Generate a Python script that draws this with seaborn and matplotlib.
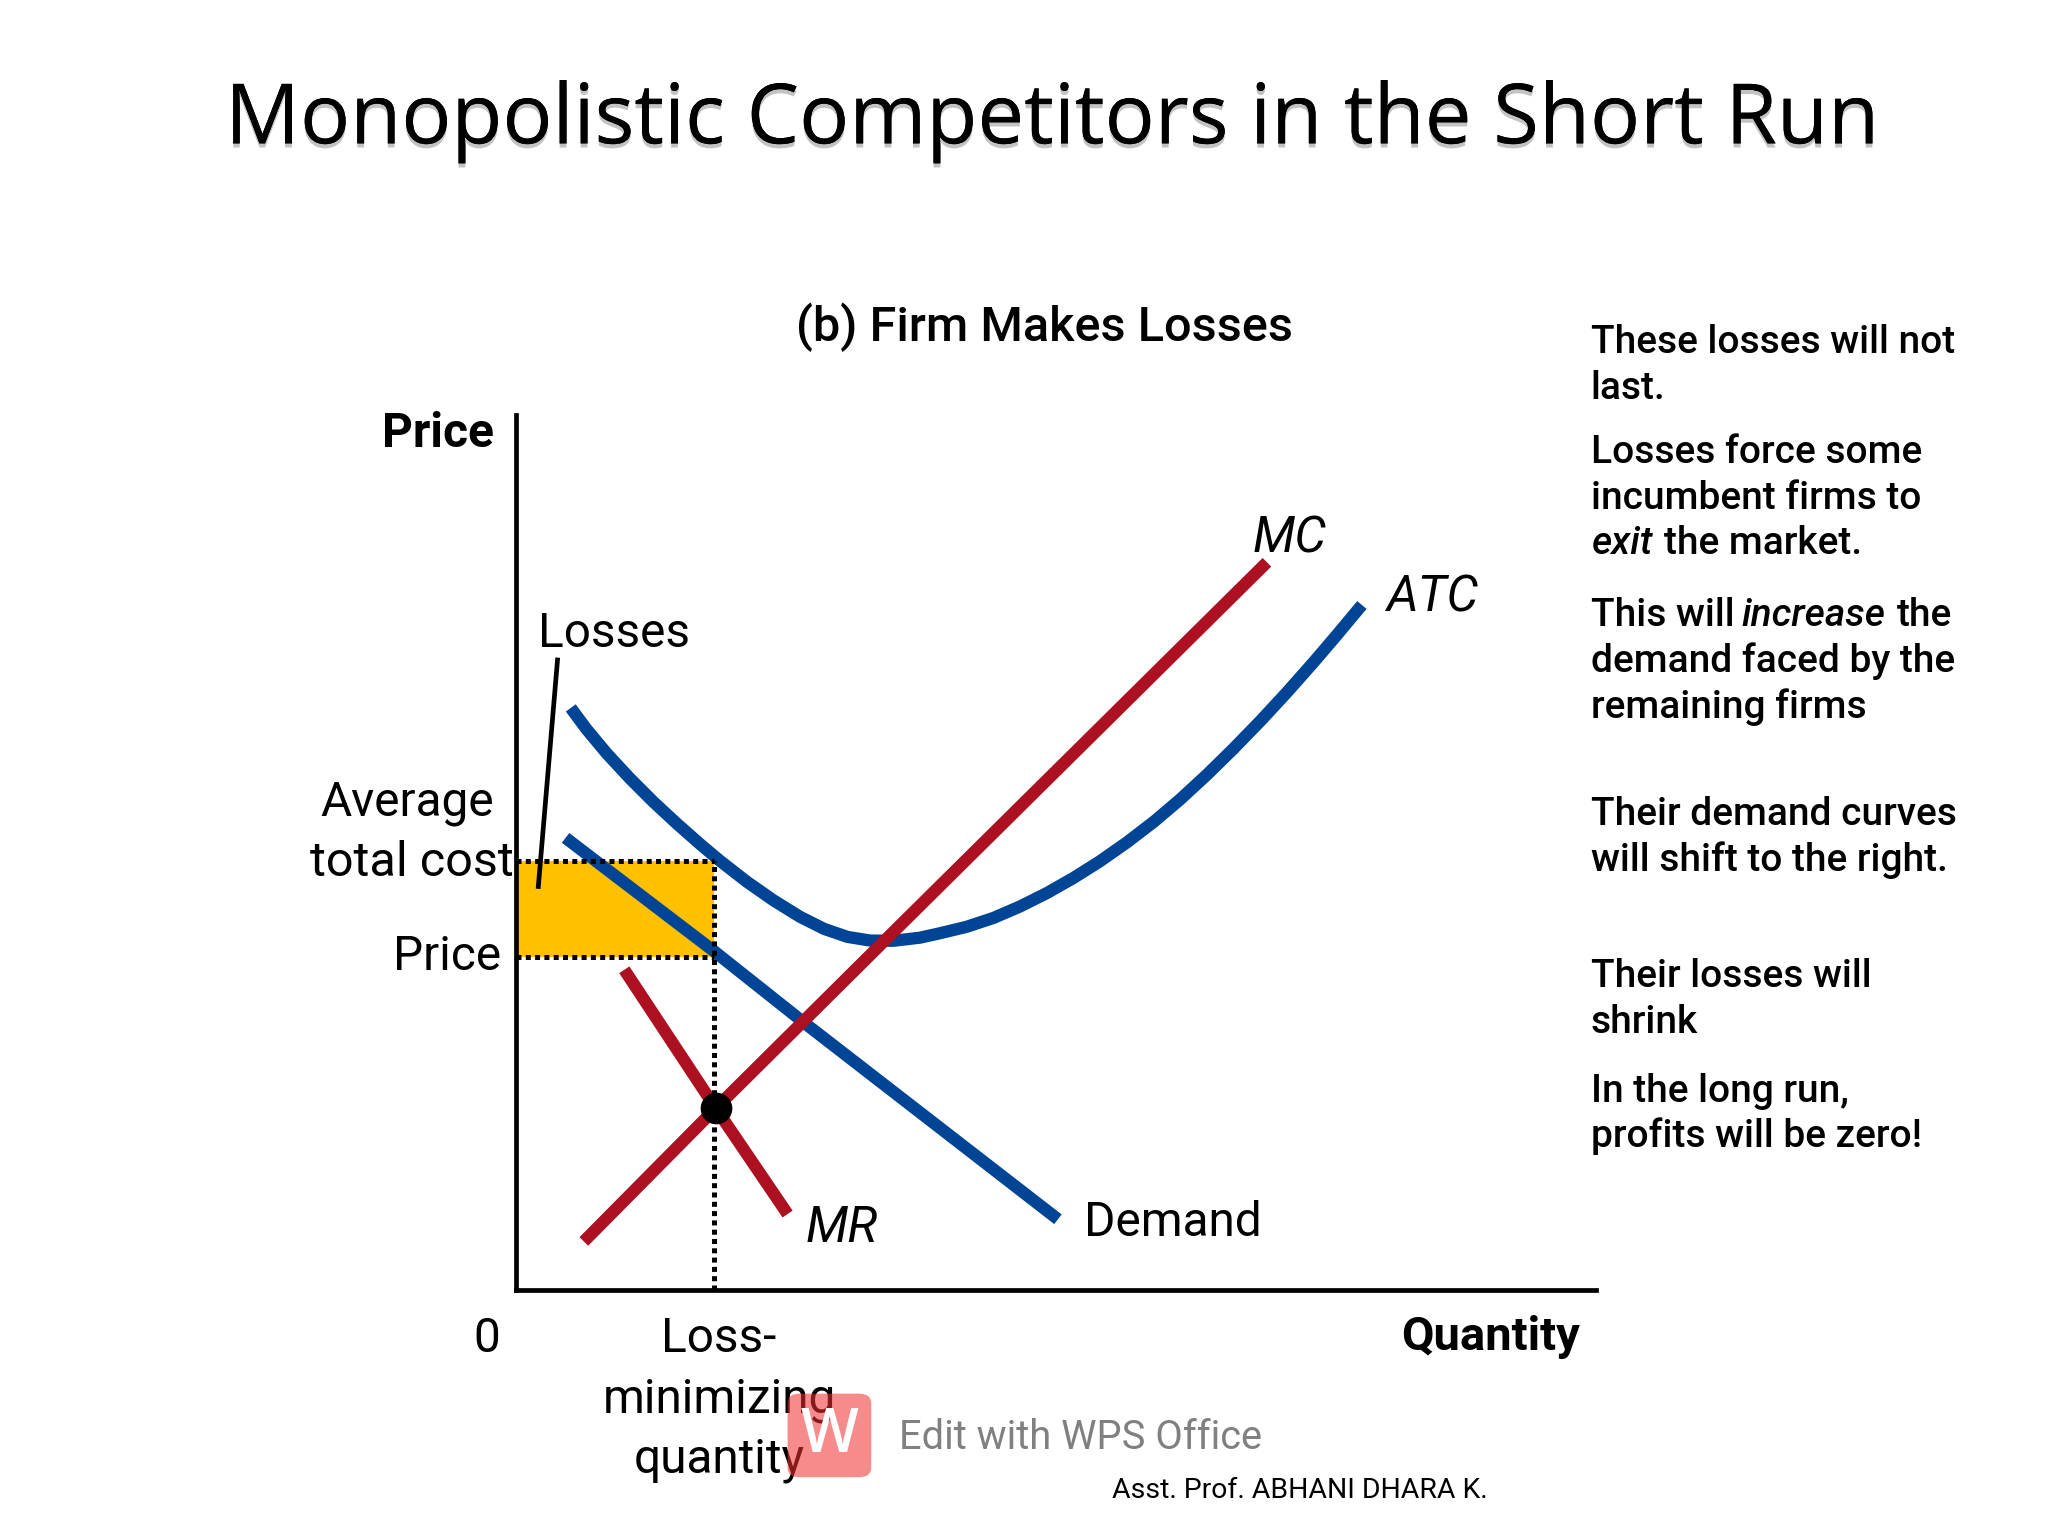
import matplotlib
matplotlib.use("Agg")
import matplotlib.pyplot as plt
import matplotlib.patheffects as pe
from matplotlib.patches import FancyBboxPatch
import pandas as pd
import seaborn as sns

sns.set_style("white")
plt.rcParams['font.family'] = ['Roboto', 'DejaVu Sans']

# Curves (x = quantity, y = price, chart units)
mc_q = [52, 153, 285, 575]
mc_p = [37, 139, 270, 557]
mr_q = [83, 153, 208]
mr_p = [245, 139, 58]
demand_q = [38, 152, 220, 415]
demand_p = [346, 259, 205, 54]
atc_q = [42, 54, 69.5, 87.4, 105, 123, 141.5, 156, 176.7, 197, 217.5, 236, 253.8, 271, 289, 309.4, 324.7, 345, 365.6, 386, 406.8, 427, 447, 468, 488.7, 508.5, 529, 549, 570, 590, 611, 628, 647.7]
atc_p = [445.5, 429.3, 410.7, 391.4, 373.8, 357.1, 340.8, 328.6, 312.5, 298.3, 285.6, 276.3, 270.2, 267.4, 267.2, 269.6, 273, 277.9, 284.7, 293.5, 303.9, 315.4, 328, 342.7, 358.6, 375.4, 394.3, 413.9, 435.5, 457.1, 480.8, 500.7, 524.3]
atc_level = 328
price_level = 255
loss_q = 152
point_q = [153]
point_p = [139]
leader_q = [32, 17]
leader_p = [484, 307]

BLUE = "#004496"
RED = "#AD1020"
GOLD = "#FFC000"
S = 2048 / 1568
W, H = 2048, 1535

fig = plt.figure(figsize=(20.48, 15.35), dpi=100, facecolor="white")
L, R, T_, B = 395 * S, 1222 * S, 317.5 * S, 987.5 * S
ax = fig.add_axes([L / W, 1 - B / H, (R - L) / W, (B - T_) / H])
ax.set_xlim(0, 827)
ax.set_ylim(0, 670)
ax.set_xticks([])
ax.set_yticks([])
ax.patch.set_alpha(0)
sns.despine(ax=ax)
for s in ("left", "bottom"):
    ax.spines[s].set_linewidth(3.4)
    ax.spines[s].set_color("black")

ax.fill_between([0, loss_q], price_level, atc_level, color=GOLD, lw=0, zorder=1)
dot = dict(color="black", lw=3.6, linestyle=(0, (1, 0.86)), zorder=5)
ax.plot([0, loss_q], [atc_level] * 2, **dot)
ax.plot([0, loss_q], [price_level] * 2, **dot)
ax.plot([loss_q, loss_q], [0, atc_level], **dot)


def curve(q, p, color):
    d = pd.DataFrame({"q": q, "p": p})
    sns.lineplot(data=d, x="q", y="p", ax=ax, color=color, lw=8.8, sort=False,
                 estimator=None, solid_capstyle="butt", solid_joinstyle="round",
                 zorder=3, legend=False)


curve(atc_q, atc_p, BLUE)
curve(demand_q, demand_p, BLUE)
curve(mc_q, mc_p, RED)
curve(mr_q, mr_p, RED)
ax.set_xlabel("")
ax.set_ylabel("")
ax.plot(leader_q, leader_p, color="black", lw=3.4, zorder=6, solid_capstyle="butt")
sns.scatterplot(x=point_q, y=point_p, ax=ax, color="black", s=520, linewidth=0, zorder=7, legend=False)


def txt(x, y, s, size=31, weight="normal", style="normal", ha="left", va="center", family=None, z=10, **kw):
    k = dict(fontsize=size, fontweight=weight, fontstyle=style, ha=ha, va=va, color="black", zorder=z)
    if family:
        k["family"] = family
    k.update(kw)
    return fig.text(x * S / W, 1 - (y + 2.5) * S / H, s, **k)


# Title
t = txt(805, 91, "Monopolistic Competitors in the Short Run", size=60, ha="center", family="Open Sans")
t.set_path_effects([pe.withSimplePatchShadow(offset=(0, -3), shadow_rgbFace="#888888", alpha=0.5),
                    pe.Normal()])
txt(800, 248, "(b) Firm Makes Losses", size=35, weight="medium", ha="center")

# Chart labels
LBL = 34.4
txt(378, 330, "Price", size=34.5, weight="bold", ha="right")
txt(1210, 1021, "Quantity", size=34, weight="bold", ha="right")
txt(412, 483, "Losses", size=LBL)
txt(378, 612, "Average", size=LBL, ha="right")
txt(393, 658, "total cost", size=35, ha="right")
txt(384, 730, "Price", size=LBL, ha="right")
txt(373, 1023, "0", size=LBL, ha="center")
txt(550, 1023, "Loss-", size=LBL, ha="center")
txt(551, 1069, "minimizing", size=LBL, ha="center")
txt(551, 1115, "quantity", size=LBL, ha="center")
txt(959, 410, "MC", size=36, style="italic")
txt(1062, 455, "ATC", size=36, style="italic")
txt(617, 938, "MR", size=36, style="italic")
txt(830, 934, "Demand", size=LBL)

# Side notes
NOTE = 28
X = 1218
for y, s in [(260, "These losses will not"), (295, "last."),
             (344, "Losses force some"), (379, "incumbent firms to"),
             (504, "demand faced by the"), (539, "remaining firms"),
             (621, "Their demand curves"), (656, "will shift to the right."),
             (745, "Their losses will"), (780, "shrink"),
             (833, "In the long run,"), (867, "profits will be zero!")]:
    txt(X, y, s, size=NOTE, weight="medium")
txt(X, 414, "exit", size=NOTE, weight="medium", style="italic")
txt(1274, 414, "the market.", size=NOTE, weight="medium")
txt(X, 469, "This will", size=NOTE, weight="medium")
txt(1333, 469, "increase", size=NOTE, weight="medium", style="italic")
txt(1452, 469, "the", size=NOTE, weight="medium")

# Watermark and credit
fig.add_artist(FancyBboxPatch((603 * S / W, 1 - 1131 * S / H), 64 * S / W, 64 * S / H,
                              boxstyle="round,pad=0,rounding_size=0.006",
                              fc="#F03030", ec="none", alpha=0.56, zorder=20,
                              transform=fig.transFigure))
txt(635, 1097, "W", size=44, weight="semibold", ha="center", color="white", z=21, family="Open Sans")
txt(688, 1098, "Edit with WPS Office", size=28.7, color="#808080", z=21)
txt(851, 1139, "Asst. Prof. ABHANI DHARA K.", size=20.4)

fig.savefig("out.png", dpi=100, facecolor="white")
